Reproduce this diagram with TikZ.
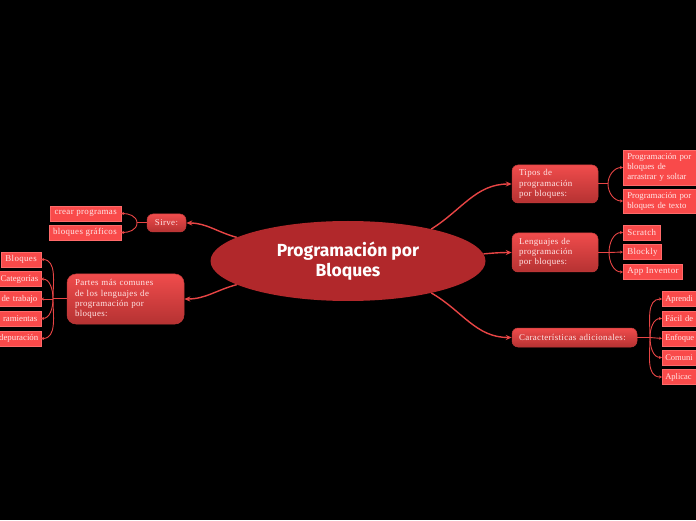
\documentclass[tikz,border=0pt]{standalone}
\usepackage{fontspec}
\setmainfont{Liberation Serif}[LetterSpace=4]
\newfontfamily\tightfont{Liberation Serif}
\newfontfamily\titlefont{Fira Sans}
\usetikzlibrary{shapes.geometric,arrows.meta,calc}
\definecolor{linecol}{HTML}{E84545}
\definecolor{leaffill}{HTML}{F94A4A}
\definecolor{leafdraw}{HTML}{FF6A6A}
\definecolor{leaftext}{HTML}{FFE6E6}
\definecolor{brtop}{HTML}{F04C4C}
\definecolor{brbot}{HTML}{B53232}
\definecolor{brdraw}{HTML}{C23A3A}
\definecolor{centerfill}{HTML}{B1282B}
\tikzset{
  basefont/.style={font=\fontsize{8.9}{10.2}\selectfont},
  tightleaf/.style={font=\tightfont\fontsize{8.8}{10.2}\selectfont},
  edgeleaf/.style={font=\tightfont\fontsize{8.5}{10.2}\selectfont, inner xsep=3pt, text width=44pt, align=left, anchor=west},
  leaf/.style={basefont, fill=leaffill, draw=leafdraw, line width=0.5pt, text=leaftext,
    inner xsep=4pt, inner ysep=0pt, minimum height=15pt},
  branch/.style={basefont, top color=brtop, bottom color=brbot, draw=brdraw, line width=0.5pt,
    text=leaftext, rounded corners=6pt, inner ysep=0pt, align=left},
  mainline/.style={draw=linecol, line width=1.4pt, -{Stealth[length=6pt,width=5pt]}},
  stem/.style={draw=linecol, line width=1pt},
  subline/.style={draw=linecol, line width=0.9pt, -{Stealth[length=3pt,width=3pt]}}
}
\begin{document}
\begin{tikzpicture}[x=1pt,y=1pt]
\fill[black] (0,0) rectangle (696,520);
\useasboundingbox (0,0) rectangle (696,520);
\clip (0,0) rectangle (696,520);

% center
\node[ellipse, fill=centerfill, minimum width=275pt, minimum height=80pt, inner sep=0pt,
  text=white, align=center, font=\titlefont\bfseries\fontsize{17.5}{20.5}\selectfont]
  (center) at (348,259) {Programación por\\Bloques};

% left branches
\node[branch, minimum width=39pt, minimum height=18pt, inner xsep=5pt] (sirve) at (166.5,297) {Sirve:};
\node[leaf, anchor=east] (crear) at (121,306.5) {crear programas};
\node[leaf, anchor=east] (graf) at (121,287.5) {bloques gráficos};

\node[branch, text width=101pt, inner xsep=8pt, minimum height=50pt, rounded corners=9pt] (parts) at (125.5,221)
  {Partes más comunes\\de los lenguajes de\\programación por\\bloques:};
\node[leaf, anchor=east] (pl1) at (41,260.5) {Bloques};
\node[leaf, tightleaf, anchor=east, text width=50pt, align=right, inner xsep=2.5pt] (pl2) at (41,241) {Categorías};
\node[leaf, tightleaf, anchor=east, text width=50pt, align=right, inner xsep=3.5pt] (pl3) at (41,221) {de trabajo};
\node[leaf, tightleaf, anchor=east, text width=50pt, align=right, inner xsep=3.5pt] (pl4) at (41,201.5) {ramientas};
\node[leaf, tightleaf, anchor=east, text width=50pt, align=right, inner xsep=2.5pt] (pl5) at (41,181.5) {depuración};

% right branches
\node[branch, text width=72pt, inner xsep=7pt, minimum height=38pt] (tipos) at (555,336)
  {Tipos de\\programación\\por bloques:};
\node[leaf, tightleaf, anchor=west, text width=76pt, align=left, inner ysep=2pt, minimum height=35pt] (arr) at (623,352.5)
  {Programación por\\bloques de\\arrastrar y soltar};
\node[leaf, tightleaf, anchor=west, text width=76pt, align=left, inner ysep=2pt, minimum height=24pt] (txt) at (623,319)
  {Programación por\\bloques de texto};

\node[branch, text width=72pt, inner xsep=7pt, minimum height=39pt] (leng) at (555,267.5)
  {Lenguajes de\\programación\\por bloques:};
\node[leaf, anchor=west] (scr) at (623,287.5) {Scratch};
\node[leaf, anchor=west] (blk) at (623,268) {Blockly};
\node[leaf, anchor=west] (app) at (623,248) {App Inventor};

\node[branch, text width=111pt, inner xsep=7pt, minimum height=19pt] (car) at (574.5,182.5)
  {Características adicionales:};
\node[leaf, edgeleaf] (c1) at (662,221) {Aprendi};
\node[leaf, edgeleaf] (c2) at (662,201.5) {Fácil de};
\node[leaf, edgeleaf] (c3) at (662,181.5) {Enfoque};
\node[leaf, edgeleaf] (c4) at (662,162.5) {Comuni};
\node[leaf, edgeleaf] (c5) at (662,143) {Aplicac};

% main connectors
\draw[mainline] (center.168) to[out=165,in=0] (sirve.east);
\draw[mainline] (center.192) to[out=195,in=0] (parts.east);
\draw[mainline] (center.21) to[out=32,in=180] (tipos.west);
\draw[mainline] (center.3) to[out=5,in=180] (leng.west);
\draw[mainline] (center.-21) to[out=-30,in=180] (car.west);

% sub connectors
\coordinate (js) at (137,297);
\draw[stem] (sirve.west) -- (js);
\draw[subline] (js) to[out=90,in=0] (crear.east);
\draw[subline] (js) to[out=-90,in=0] (graf.east);

\coordinate (jp) at (53,221);
\draw[stem] (parts.west) -- (jp);
\draw[subline] (jp) to[out=90,in=0] (pl1.east);
\draw[subline] (jp) to[out=90,in=0] (pl2.east);
\draw[subline] (jp) -- (pl3.east);
\draw[subline] (jp) to[out=-90,in=0] (pl4.east);
\draw[subline] (jp) to[out=-90,in=0] (pl5.east);

\coordinate (jt) at (608,336);
\draw[stem] (tipos.east) -- (jt);
\draw[subline] (jt) to[out=90,in=180] (arr.west);
\draw[subline] (jt) to[out=-90,in=180] (txt.west);

\coordinate (jl) at (609,267.5);
\draw[stem] (leng.east) -- (jl);
\draw[subline] (jl) to[out=90,in=180] (scr.west);
\draw[subline] (jl) -- (blk.west);
\draw[subline] (jl) to[out=-90,in=180] (app.west);

\coordinate (jc) at (650,182.5);
\draw[stem] (car.east) -- (jc);
\draw[subline] (jc) to[out=90,in=180] (c1.west);
\draw[subline] (jc) to[out=90,in=180] (c2.west);
\draw[subline] (jc) -- (c3.west);
\draw[subline] (jc) to[out=-90,in=180] (c4.west);
\draw[subline] (jc) to[out=-90,in=180] (c5.west);
\end{tikzpicture}
\end{document}
